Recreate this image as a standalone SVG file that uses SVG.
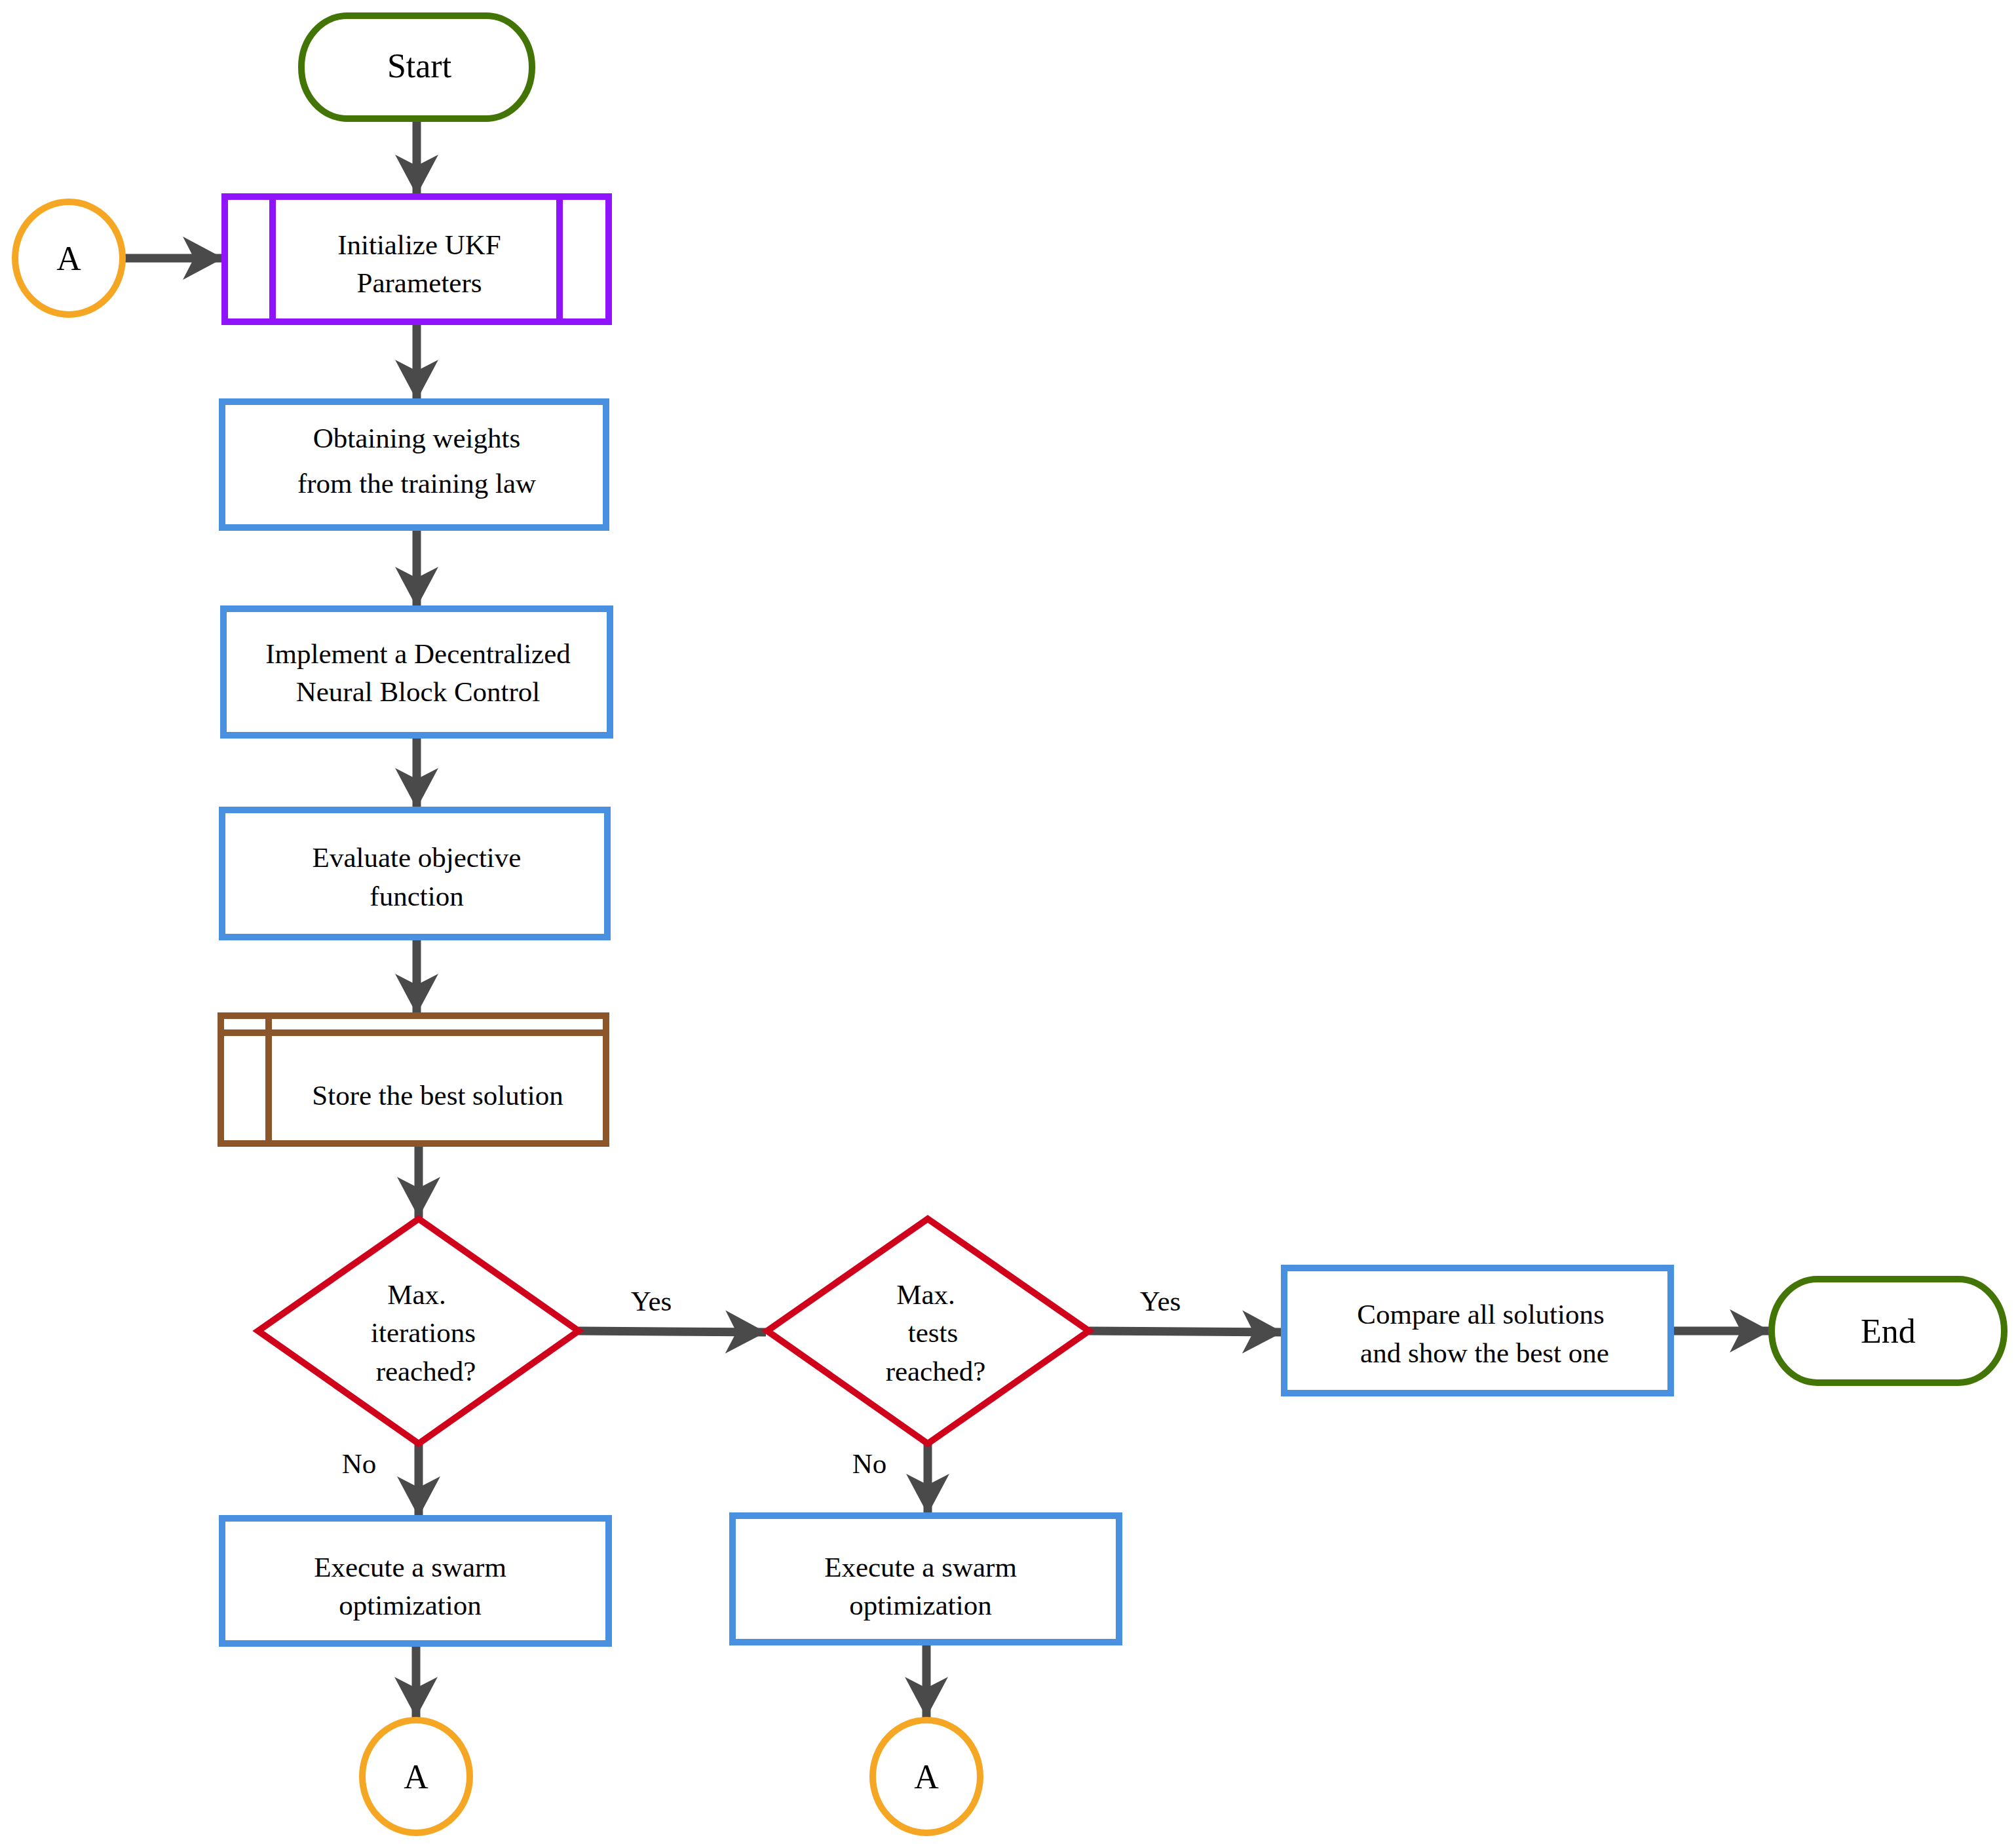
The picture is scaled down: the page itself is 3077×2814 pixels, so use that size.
<svg xmlns="http://www.w3.org/2000/svg" width="3077" height="2814" viewBox="0 0 3077 2814">
<style>
text{font-family:"Liberation Serif","DejaVu Serif",serif;font-size:43px;fill:#000;text-anchor:middle}
.big{font-size:52px}
.term{fill:#fff;stroke:#427505;stroke-width:10}
.proc{fill:#fff;stroke:#4a90e0;stroke-width:10}
.sub{fill:#fff;stroke:#9013fe;stroke-width:10}
.store{fill:#fff;stroke:#8b572a;stroke-width:10}
.dec{fill:#fff;stroke:#d0021b;stroke-width:10}
.conn{fill:#fff;stroke:#f5a623;stroke-width:10}
.edge{stroke:#4a4a4a;stroke-width:13;fill:none;marker-end:url(#ah)}
</style>
<defs>
<marker id="ah" markerUnits="userSpaceOnUse" viewBox="-64 -34 66 68" refX="0" refY="0" markerWidth="66" markerHeight="68" orient="auto">
<path d="M0,0 L-62,-33 L-45,0 L-62,33 Z" fill="#4a4a4a"/>
</marker>
</defs>
<rect width="3077" height="2814" fill="#fff"/>
<g id="connectors">
<line class="edge" x1="636" y1="181" x2="636" y2="298"/>
<line class="edge" x1="188" y1="394" x2="341" y2="394"/>
<line class="edge" x1="636" y1="491" x2="636" y2="611"/>
<line class="edge" x1="636" y1="805" x2="636" y2="927"/>
<line class="edge" x1="636" y1="1122" x2="636" y2="1234"/>
<line class="edge" x1="636" y1="1430" x2="636" y2="1548"/>
<line class="edge" x1="639" y1="1745" x2="639" y2="1858"/>
<line class="edge" x1="883" y1="2031" x2="1169" y2="2033"/>
<line class="edge" x1="1662" y1="2031" x2="1958" y2="2033"/>
<line class="edge" x1="2550" y1="2031" x2="2702" y2="2031"/>
<line class="edge" x1="639" y1="2203" x2="639" y2="2315"/>
<line class="edge" x1="1416" y1="2203" x2="1416" y2="2311"/>
<line class="edge" x1="635" y1="2508" x2="635" y2="2621"/>
<line class="edge" x1="1414" y1="2506" x2="1414" y2="2621"/>
<text x="994" y="2000">Yes</text>
<text x="1771" y="2000">Yes</text>
<text x="548" y="2248">No</text>
<text x="1327" y="2248">No</text>
</g>
<g id="start"><rect class="term" x="460" y="24" width="352" height="157" rx="70" ry="78"/><text class="big" x="640" y="118">Start</text></g>
<g id="a-in"><ellipse class="conn" cx="105" cy="394" rx="82" ry="86"/><text class="big" x="105" y="412">A</text></g>
<g id="init"><rect class="sub" x="343" y="300" width="586" height="191"/><line class="sub" x1="416" y1="300" x2="416" y2="491"/><line class="sub" x1="854" y1="300" x2="854" y2="491"/><text x="640" y="388">Initialize UKF</text><text x="640" y="446">Parameters</text></g>
<g id="weights"><rect class="proc" x="339" y="613" width="586" height="192"/><text x="636" y="683">Obtaining weights</text><text x="636" y="752">from the training law</text></g>
<g id="implement"><rect class="proc" x="341" y="929" width="590" height="193"/><text x="638" y="1012">Implement a Decentralized</text><text x="638" y="1070">Neural Block Control</text></g>
<g id="evaluate"><rect class="proc" x="339" y="1236" width="588" height="194"/><text x="636" y="1323">Evaluate objective</text><text x="636" y="1382">function</text></g>
<g id="store"><rect class="store" x="337" y="1550" width="588" height="195"/><line class="store" x1="337" y1="1576" x2="925" y2="1576"/><line class="store" x1="410" y1="1550" x2="410" y2="1745"/><text x="668" y="1686">Store the best solution</text></g>
<g id="dec-iter"><polygon class="dec" points="639,1860 883,2031 639,2203 394,2031"/><text x="636" y="1990">Max.</text><text x="646" y="2048">iterations</text><text x="650" y="2107">reached?</text></g>
<g id="dec-tests"><polygon class="dec" points="1416,1860 1662,2031 1416,2203 1171,2031"/><text x="1413" y="1990">Max.</text><text x="1424" y="2048">tests</text><text x="1428" y="2107">reached?</text></g>
<g id="compare"><rect class="proc" x="1960" y="1935" width="590" height="191"/><text x="2260" y="2020">Compare all solutions</text><text x="2266" y="2079">and show the best one</text></g>
<g id="end"><rect class="term" x="2704" y="1952" width="355" height="158" rx="70" ry="79"/><text class="big" x="2882" y="2049">End</text></g>
<g id="exec1"><rect class="proc" x="339" y="2317" width="590" height="191"/><text x="626" y="2406">Execute a swarm</text><text x="626" y="2464">optimization</text></g>
<g id="exec2"><rect class="proc" x="1118" y="2313" width="590" height="193"/><text x="1405" y="2406">Execute a swarm</text><text x="1405" y="2464">optimization</text></g>
<g id="a-out1"><ellipse class="conn" cx="635" cy="2711" rx="82" ry="86"/><text class="big" x="635" y="2729">A</text></g>
<g id="a-out2"><ellipse class="conn" cx="1414" cy="2711" rx="82" ry="86"/><text class="big" x="1414" y="2729">A</text></g>
</svg>
